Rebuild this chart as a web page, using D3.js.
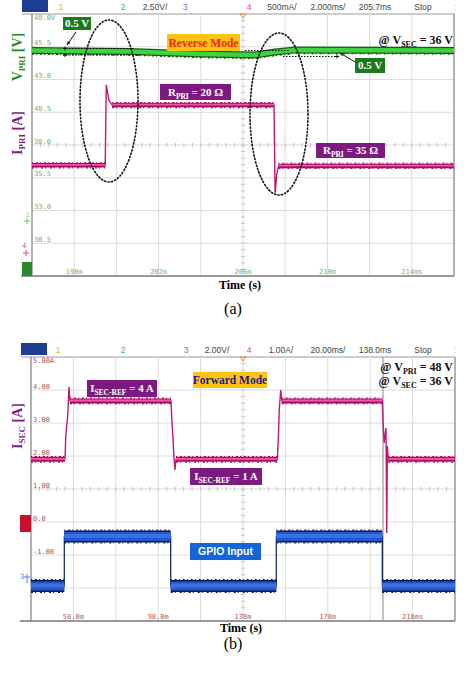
<!DOCTYPE html>
<html><head><meta charset="utf-8">
<script src="https://cdn.jsdelivr.net/npm/d3@7"></script>
<style>body{margin:0;background:#fff}svg{display:block}</style>
</head><body><svg id="c" width="474" height="682"></svg>
<script>
// ---------- DATA ----------
// (a) Reverse mode
const topXVals = [197.7, 201.7, 205.7, 209.7, 213.7];
const topXLabels = ["198m", "202m", "206m", "210m", "214ms"];
const topYVals = [48, 45.5, 43, 40.5, 38, 35.5, 33, 30.5];
const topYLabels = ["48.0V", "45.5", "43.0", "40.5", "38.0", "35.5", "33.0", "30.5"];
const vpriTime = [195.7, 200.34, 202.0, 203.66, 206.27, 207.22, 208.16, 215.7];
const vpriVolt = [45.21, 45.13, 45.04, 44.94, 44.87, 45.10, 45.26, 45.21];
const ipriTime = [195.7, 199.17, 199.22, 199.28, 199.35, 199.5, 207.17, 207.2, 207.22, 207.3, 207.38, 215.7];
const ipriAmp  = [1.29, 1.29, 2.52, 2.40, 2.28, 2.21, 2.21, 1.40, 0.87, 1.15, 1.28, 1.28];
// (b) Forward mode
const botXVals = [58, 98, 138, 178, 218];
const botXLabels = ["58.0m", "98.0m", "138m", "178m", "218ms"];
const botYVals = [5, 4, 3, 2, 1, 0, -1];
const botYLabels = ["5.00A", "4.00", "3.00", "2.00", "1.00", "0.0", "-1.00"];
const isecTime = [38, 54.04, 54.4, 54.8, 55.3, 55.9, 56.4, 104.04, 104.5, 105.0, 105.45, 105.9, 106.4,
                  154.2, 154.7, 155.1, 155.8, 156.3, 203.7, 204.2, 204.6, 205.45, 205.8, 206.1, 206.5, 238];
const isecAmp  = [1.9, 1.9, 2.58, 2.89, 3.19, 4.1, 3.67, 3.67, 3.0, 2.5, 1.94, 1.58, 1.9,
                  1.9, 2.58, 3.4, 4.0, 3.67, 3.67, 2.85, 2.4, 2.85, -0.33, 2.3, 1.9, 1.9];
const gpioTime = [38, 53.7, 53.7, 103.9, 103.9, 153.7, 153.7, 203.7, 203.7, 238];
const gpioVolt = [0, 0, 3, 3, 0, 0, 3, 3, 0, 0];

// ---------- SETUP ----------
const svg = d3.select("#c");
const SERIF = "'Liberation Serif','DejaVu Serif',serif";
const SANS = "'Liberation Sans','DejaVu Sans',sans-serif";
const MONO = "'DejaVu Sans Mono','Liberation Mono',monospace";

const xT = d3.scaleLinear().domain([195.7, 215.7]).range([32, 454]);
const yV = d3.scaleLinear().domain([28, 48]).range([276, 14]);
const yI = d3.scaleLinear().domain([-0.4, 3.6]).range([276, 14]);
const xB = d3.scaleLinear().domain([38, 238]).range([31, 455]);
const yS = d3.scaleLinear().domain([-3, 5]).range([621, 357]);
const yG = d3.scaleLinear().domain([-2.12, 13.88]).range([621, 357]);

function rich(sel, parts, subSize) {
  let shifted = 0;
  parts.forEach(p => {
    const ts = sel.append("tspan").text(p[0]);
    if (p[1] === "sub") { ts.attr("font-size", subSize).attr("dy", 3 - shifted); shifted = 3; }
    else if (shifted) { ts.attr("dy", -shifted); shifted = 0; }
  });
}
function box(x, y, w, h, fill, parts, color, size, font) {
  const g = svg.append("g");
  g.append("rect").attr("x", x).attr("y", y).attr("width", w).attr("height", h).attr("fill", fill);
  const t = g.append("text").attr("x", x + w / 2).attr("y", y + h / 2 + size * 0.35)
    .attr("text-anchor", "middle").attr("font-family", font || SERIF).attr("font-weight", "bold")
    .attr("font-size", size).attr("fill", color);
  rich(t, parts, size * 0.68);
}

function header(y, boxY, items, x0) {
  svg.append("rect").attr("x", x0).attr("y", boxY).attr("width", 26).attr("height", 12).attr("fill", "#1d3d8f");
  svg.append("line").attr("x1", x0).attr("x2", 455).attr("y1", boxY + 14).attr("y2", boxY + 14).attr("stroke", "#999");
  items.forEach(d => svg.append("text").attr("x", d[0]).attr("y", y).attr("text-anchor", "middle")
    .attr("font-family", SANS).attr("font-size", 8.5).attr("fill", d[2] || "#444").text(d[1]));
}

function scope(xs, ys, divX, divY, t0, v0, stepV) {
  const [xa, xb] = xs.range(), [yb, ya] = ys.range();
  const g = svg.append("g");
  for (let k = 1; k < 10; k++) g.append("line").attr("x1", xs(t0 + k * divX)).attr("x2", xs(t0 + k * divX))
    .attr("y1", ya).attr("y2", yb).attr("stroke", "#dcdcdc");
  for (let k = 1; k < 8; k++) g.append("line").attr("x1", xa).attr("x2", xb)
    .attr("y1", ys(v0 - k * stepV)).attr("y2", ys(v0 - k * stepV)).attr("stroke", "#dcdcdc");
  const cx = xs(t0 + 5 * divX), cy = ys(v0 - 4 * stepV);
  for (let k = 1; k < 50; k++) { const x = xs(t0 + k * divX / 5);
    g.append("line").attr("x1", x).attr("x2", x).attr("y1", cy - 2).attr("y2", cy + 2).attr("stroke", "#c4c4c4"); }
  for (let k = 1; k < 40; k++) { const y = ys(v0 - k * stepV / 5);
    g.append("line").attr("x1", cx - 2).attr("x2", cx + 2).attr("y1", y).attr("y2", y).attr("stroke", "#c4c4c4"); }
  g.append("line").attr("x1", xa).attr("x2", xa).attr("y1", ya).attr("y2", yb).attr("stroke", "#888").attr("stroke-width", 1.3);
  g.append("line").attr("x1", xb).attr("x2", xb).attr("y1", ya).attr("y2", yb).attr("stroke", "#888").attr("stroke-width", 1.3);
  g.append("line").attr("x1", xa - 11).attr("x2", xb).attr("y1", yb).attr("y2", yb).attr("stroke", "#777").attr("stroke-width", 1.3);
  g.append("path").attr("d", `M${cx - 3},${ya} L${cx + 3},${ya} L${cx},${ya + 4}Z`).attr("fill", "none").attr("stroke", "#e09030");
}

// level segment drawer with ragged (speckled) edges
function band(x1, x2, y, w, dark, mid, light) {
  svg.append("line").attr("x1", x1).attr("x2", x2).attr("y1", y).attr("y2", y).attr("stroke", dark).attr("stroke-width", w);
  svg.append("line").attr("x1", x1).attr("x2", x2).attr("y1", y).attr("y2", y).attr("stroke", mid).attr("stroke-width", w - 3);
  if (light) svg.append("line").attr("x1", x1).attr("x2", x2).attr("y1", y - 0.5).attr("y2", y - 0.5).attr("stroke", light).attr("stroke-width", Math.max(1, w / 3));
  [-1, 1].forEach(s => svg.append("line").attr("x1", x1).attr("x2", x2)
    .attr("y1", y + s * (w / 2 + 0.3)).attr("y2", y + s * (w / 2 + 0.3))
    .attr("stroke", dark).attr("stroke-width", 1.2).attr("stroke-dasharray", s < 0 ? "1 3 2 2" : "2 2 1 4"));
}

// ---------- PANEL (a) ----------
header(10, 0, [[61, "1", "#c8c800"], [123, "2", "#44bb44"], [155, "2.50V/"], [185, "3", "#5a78d8"],
  [249, "4", "#e0409a"], [282, "500mA/"], [328, "2.000ms/"], [375, "205.7ms"], [423, "Stop"], [455, ":", "#9c9"]], 22);
scope(xT, yV, 2, 2.5, 195.7, 48, 2.5);

svg.append("g").selectAll("text").data(topYVals).join("text")
  .attr("x", 34).attr("y", (d, i) => i === 0 ? yV(d) + 6 : yV(d) - 1.5)
  .attr("font-family", MONO).attr("font-size", 7).attr("fill", "#7fa87f").text((d, i) => topYLabels[i]);
svg.append("g").selectAll("text").data(topXVals).join("text")
  .attr("x", d => xT(d)).attr("y", 274).attr("text-anchor", "middle")
  .attr("font-family", MONO).attr("font-size", 7).attr("fill", "#6cb86c").text((d, i) => topXLabels[i]);

// VPRI trace
const vLine = d3.line().x(d => xT(d[0])).y(d => yV(d[1]));
const vData = vpriTime.map((t, i) => [t, vpriVolt[i]]);
svg.append("path").attr("d", vLine(vData)).attr("fill", "none").attr("stroke", "#145f14").attr("stroke-width", 7);
svg.append("path").attr("d", vLine(vData)).attr("fill", "none").attr("stroke", "#3fd43f").attr("stroke-width", 4.5);
svg.append("path").attr("d", vLine(vData)).attr("fill", "none").attr("stroke", "#0e4a0e").attr("stroke-width", 1.2)
  .attr("transform", "translate(0,3.6)").attr("stroke-dasharray", "2 2 1 3");

// IPRI trace
const iData = ipriTime.map((t, i) => [t, ipriAmp[i]]);
const iLine = d3.line().x(d => xT(d[0])).y(d => yI(d[1]));
svg.append("path").attr("d", iLine(iData)).attr("fill", "none").attr("stroke", "#c0187a").attr("stroke-width", 1.4);
for (let i = 0; i < iData.length - 1; i++) {
  if (iData[i][1] === iData[i + 1][1] && iData[i + 1][0] - iData[i][0] > 0.5)
    band(xT(iData[i][0]), xT(iData[i + 1][0]), yI(iData[i][1]), 4.5, "#a80a62", "#d0207f", "#ec5aa5");
}

// dotted cursor lines & ellipses
const dot = (x1, x2, y) => svg.append("line").attr("x1", x1).attr("x2", x2).attr("y1", y).attr("y2", y)
  .attr("stroke", "#111").attr("stroke-width", 1).attr("stroke-dasharray", "1.5 1.5");
dot(63, 135, 48.5); dot(63, 140, 55); dot(245, 290, 50.5); dot(283, 340, 56.5);
[[65, 48.5], [65, 55], [337, 56.5]].forEach(p => svg.append("path")
  .attr("d", `M${p[0] - 2},${p[1]}h4M${p[0]},${p[1] - 2}v4`).attr("stroke", "#111"));
const ell = (cx, cy, rx, ry) => svg.append("ellipse").attr("cx", cx).attr("cy", cy).attr("rx", rx).attr("ry", ry)
  .attr("fill", "none").attr("stroke", "#111").attr("stroke-width", 1.6).attr("stroke-dasharray", "1.3 2.2").attr("stroke-linecap", "round");
ell(109, 101, 29, 81); ell(279, 114, 29, 81);

function arrow(x1, y1, x2, y2) {
  svg.append("line").attr("x1", x1).attr("y1", y1).attr("x2", x2).attr("y2", y2).attr("stroke", "#111").attr("stroke-width", 1);
  const a = Math.atan2(y2 - y1, x2 - x1), L = 4;
  svg.append("path").attr("d", `M${x2},${y2}L${x2 - L * Math.cos(a - 0.45)},${y2 - L * Math.sin(a - 0.45)}L${x2 - L * Math.cos(a + 0.45)},${y2 - L * Math.sin(a + 0.45)}Z`).attr("fill", "#111");
}
arrow(76, 32, 67, 45); arrow(355, 62, 340, 53);

box(63, 17, 28, 13, "#1b7a1b", [["0.5 V"]], "#fff", 11);
box(355, 58, 30, 15, "#1b7a1b", [["0.5 V"]], "#fff", 11);
box(167, 34, 73, 17, "#ffc20e", [["Reverse Mode"]], "#e8241a", 11.5);
box(160, 84, 71, 16, "#7d1a80", [["R"], ["PRI", "sub"], [" = 20 Ω"]], "#fff", 11);
box(316, 143, 69, 15, "#7d1a80", [["R"], ["PRI", "sub"], [" = 35 Ω"]], "#fff", 11);
{ const t = svg.append("text").attr("x", 453).attr("y", 44).attr("text-anchor", "end").attr("font-family", SERIF)
    .attr("font-weight", "bold").attr("font-size", 12).attr("fill", "#111");
  rich(t, [["@ V"], ["SEC", "sub"], [" =  36 V"]], 8); }

function vtitle(cx, cy, parts, color) {
  const t = svg.append("text").attr("transform", `translate(${cx},${cy}) rotate(-90)`).attr("text-anchor", "middle")
    .attr("font-family", SERIF).attr("font-weight", "bold").attr("font-size", 14).attr("fill", color);
  rich(t, parts, 9);
}
vtitle(22, 57, [["V"], ["PRI", "sub"], [" [V]"]], "#1a8a1a");
vtitle(22, 133, [["I"], ["PRI", "sub"], [" [A]"]], "#7b1f7b");

svg.append("text").attr("x", 26).attr("y", 217).attr("font-family", MONO).attr("font-size", 6).attr("fill", "#66cc66").text("2");
svg.append("path").attr("d", "M24,221h6M27,218v6").attr("stroke", "#66cc66");
svg.append("text").attr("x", 22).attr("y", 248).attr("font-family", MONO).attr("font-size", 7).attr("fill", "#e0409a").text("4");
svg.append("path").attr("d", "M23,253h6M26,250v6").attr("stroke", "#e0409a");
svg.append("rect").attr("x", 22).attr("y", 262).attr("width", 10).attr("height", 14).attr("fill", "#2a8a2a");

svg.append("text").attr("x", 240).attr("y", 289).attr("text-anchor", "middle").attr("font-family", SERIF)
  .attr("font-weight", "bold").attr("font-size", 12).text("Time (s)");
svg.append("text").attr("x", 233).attr("y", 314).attr("text-anchor", "middle").attr("font-family", SERIF)
  .attr("font-size", 16).text("(a)");

// ---------- PANEL (b) ----------
header(353, 343, [[58, "1", "#c8c800"], [123, "2", "#44bb44"], [186, "3", "#5a78d8"], [217, "2.00V/"],
  [249, "4", "#e0409a"], [281, "1.00A/"], [328, "20.00ms/"], [375, "138.0ms"], [423, "Stop"], [455, ":", "#9c9"]], 21);
scope(xB, yS, 20, 1, 38, 5, 1);
svg.append("line").attr("x1", 383).attr("x2", 383).attr("y1", 357).attr("y2", 621).attr("stroke", "#999").attr("stroke-width", 1.2);

svg.append("g").selectAll("text").data(botYVals).join("text")
  .attr("x", 33).attr("y", (d, i) => i === 0 ? yS(d) + 6 : yS(d) - 1.5)
  .attr("font-family", MONO).attr("font-size", 7).attr("fill", "#a85a5a").text((d, i) => botYLabels[i]);
svg.append("g").selectAll("text").data(botXVals).join("text")
  .attr("x", d => xB(d)).attr("y", 619).attr("text-anchor", "middle")
  .attr("font-family", MONO).attr("font-size", 7).attr("fill", "#b05a5a").text((d, i) => botXLabels[i]);

// GPIO trace
const gData = gpioTime.map((t, i) => [t, gpioVolt[i]]);
svg.append("path").attr("d", d3.line().x(d => xB(d[0])).y(d => yG(d[1]))(gData)).attr("fill", "none")
  .attr("stroke", "#0c1a55").attr("stroke-width", 1.2);
for (let i = 0; i < gData.length - 1; i++) {
  if (gData[i][1] === gData[i + 1][1])
    band(xB(gData[i][0]), xB(gData[i + 1][0]), yG(gData[i][1]), 12, "#0c1a55", "#2457cc", "#3a72e6");
}

// ISEC trace
const sData = isecTime.map((t, i) => [t, isecAmp[i]]);
svg.append("path").attr("d", d3.line().x(d => xB(d[0])).y(d => yS(d[1]))(sData)).attr("fill", "none")
  .attr("stroke", "#c0187a").attr("stroke-width", 1.4);
for (let i = 0; i < sData.length - 1; i++) {
  if (sData[i][1] === sData[i + 1][1] && sData[i + 1][0] - sData[i][0] > 2)
    band(xB(sData[i][0]), xB(sData[i + 1][0]), yS(sData[i][1]), 5, "#a80a62", "#d0207f", "#ec5aa5");
}

box(87, 380, 70, 17, "#7d1a80", [["I"], ["SEC-REF", "sub"], [" = 4 A"]], "#fff", 11);
box(190, 468, 72, 17, "#7d1a80", [["I"], ["SEC-REF", "sub"], [" = 1 A"]], "#fff", 11);
box(193, 372, 74, 16, "#ffc20e", [["Forward Mode"]], "#1b1b8c", 11.5);
box(190, 543, 71, 17, "#1565d8", [["GPIO Input"]], "#fff", 10.5, SANS);
[[371, "PRI", "48"], [385, "SEC", "36"]].forEach(r => {
  const t = svg.append("text").attr("x", 453).attr("y", r[0]).attr("text-anchor", "end").attr("font-family", SERIF)
    .attr("font-weight", "bold").attr("font-size", 12).attr("fill", "#111");
  rich(t, [["@ V"], [r[1], "sub"], [" =  " + r[2] + " V"]], 8);
});
vtitle(22, 426, [["I"], ["SEC", "sub"], [" [A]"]], "#7b1f7b");

svg.append("rect").attr("x", 20).attr("y", 515).attr("width", 11).attr("height", 17).attr("fill", "#c8102e");
svg.append("text").attr("x", 20).attr("y", 579).attr("font-family", MONO).attr("font-size", 7).attr("fill", "#5a78d8").text("3");
svg.append("path").attr("d", "M24,577h6M27,574v9").attr("stroke", "#5a78d8");

svg.append("text").attr("x", 241).attr("y", 632).attr("text-anchor", "middle").attr("font-family", SERIF)
  .attr("font-weight", "bold").attr("font-size", 12).text("Time (s)");
svg.append("text").attr("x", 233).attr("y", 649).attr("text-anchor", "middle").attr("font-family", SERIF)
  .attr("font-size", 16).text("(b)");
</script></body></html>
